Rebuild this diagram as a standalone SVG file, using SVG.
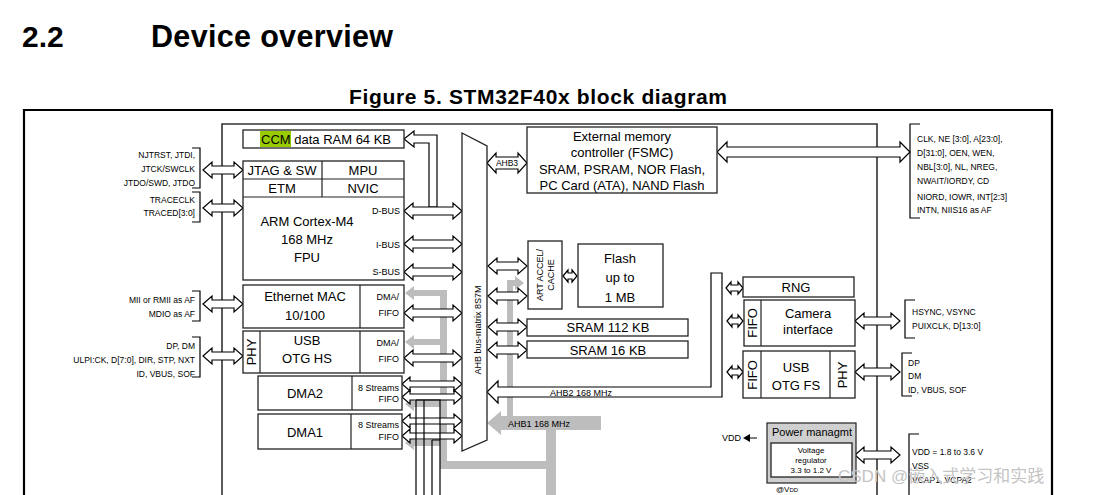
<svg xmlns="http://www.w3.org/2000/svg" width="1116" height="495" viewBox="0 0 1116 495">
<style>
text{font-family:"Liberation Sans",Arial,sans-serif;fill:#000}
.b{fill:#fff;stroke:#222;stroke-width:1.3}
.a{fill:#fff;stroke:#000;stroke-width:1.2}
.g{fill:#bdbdbd;stroke:none}
.t13{font-size:13px}
.t9{font-size:9px}
.s{font-size:8.5px}
.br{fill:none;stroke:#000;stroke-width:1.2}
</style>
<rect width="1116" height="495" fill="#fff"/>
<text x="22" y="47" font-size="30" font-weight="bold">2.2</text>
<text x="151" y="47" font-size="30.5" font-weight="bold" textLength="242">Device overview</text>
<text x="538" y="104" font-size="21" font-weight="bold" text-anchor="middle" textLength="378">Figure 5. STM32F40x block diagram</text>
<path d="M24 495 V110 H1052 V495" fill="none" stroke="#000" stroke-width="2.2"/>
<path d="M222 495 V124 H877 V495" fill="none" stroke="#333" stroke-width="1.6"/>

<g id="gray-bus">
<path class="g" d="M487 423 L501 411 L501 416 L601 416 L601 430 L501 430 L501 435 Z"/>
<rect class="g" x="546" y="430" width="10" height="65"/>
<rect class="g" x="443" y="461" width="113" height="8"/>
<rect class="g" x="440" y="292" width="7" height="177"/>
<path class="g" d="M405 293 L414 286 L414 290 L447 290 L447 296 L414 296 L414 300 Z"/>
<path class="g" d="M405 342 L414 335 L414 339 L447 339 L447 345 L414 345 L414 349 Z"/>
<path class="g" d="M405 404 L414 397 L414 401 L447 401 L447 407 L414 407 L414 411 Z"/>
<path class="g" d="M405 443 L414 436 L414 440 L447 440 L447 446 L414 446 L414 450 Z"/>
<path class="g" d="M507 416 L507 280 L515 280 L515 276 L524 283 L515 290 L515 286 L513 286 L513 416 Z"/>
</g>

<g id="connectors">
<path class="a" d="M404 139 L414 131 L414 135 L437 135 L437 207 L429 207 L429 143 L414 143 L414 147 Z"/>
<path class="a" d="M203 170 L212 162 L212 166 L234 166 L234 162 L243 170 L234 178 L234 174 L212 174 L212 178Z"/>
<path class="a" d="M203 208 L212 200 L212 204 L234 204 L234 200 L243 208 L234 216 L234 212 L212 212 L212 216Z"/>
<path class="a" d="M203 304 L212 296 L212 300 L234 300 L234 296 L243 304 L234 312 L234 308 L212 308 L212 312Z"/>
<path class="a" d="M203 356 L212 348 L212 352 L234 352 L234 348 L243 356 L234 364 L234 360 L212 360 L212 364Z"/>
<path class="a" d="M404 211 L413 203 L413 207 L453 207 L453 203 L462 211 L453 219 L453 215 L413 215 L413 219Z"/>
<path class="a" d="M404 244 L413 236 L413 240 L453 240 L453 236 L462 244 L453 252 L453 248 L413 248 L413 252Z"/>
<path class="a" d="M404 272 L413 264 L413 268 L453 268 L453 264 L462 272 L453 280 L453 276 L413 276 L413 280Z"/>
<path class="a" d="M404 313 L413 305 L413 309 L453 309 L453 305 L462 313 L453 321 L453 317 L413 317 L413 321Z"/>
<path class="a" d="M404 358 L413 350 L413 354 L453 354 L453 350 L462 358 L453 366 L453 362 L413 362 L413 366Z"/>
<path class="a" d="M402 384 L410 377 L410 381 L454 381 L454 377 L462 384 L454 391 L454 387 L410 387 L410 391Z"/>
<path class="a" d="M402 397 L410 390 L410 394 L454 394 L454 390 L462 397 L454 404 L454 400 L410 400 L410 404Z"/>
<path class="a" d="M402 421 L410 414 L410 418 L454 418 L454 414 L462 421 L454 428 L454 424 L410 424 L410 428Z"/>
<path class="a" d="M402 436 L410 429 L410 433 L454 433 L454 429 L462 436 L454 443 L454 439 L410 439 L410 443Z"/>
<path d="M416 400 V495 M424 400 V495 M432 440 V495 M440 440 V495 M416 400 H440 V440 H432" fill="none" stroke="#000" stroke-width="1.2"/>
<path class="a" d="M487 163 L496 153 L496 157 L518 157 L518 153 L527 163 L518 173 L518 169 L496 169 L496 173Z"/>
<text x="507" y="166" class="s" text-anchor="middle">AHB3</text>
<path class="a" d="M488 266 L497 258 L497 262 L518 262 L518 258 L527 266 L518 274 L518 270 L497 270 L497 274Z"/>
<path class="a" d="M488 296 L497 288 L497 292 L518 292 L518 288 L527 296 L518 304 L518 300 L497 300 L497 304Z"/>
<path class="a" d="M488 327 L497 319 L497 323 L518 323 L518 319 L527 327 L518 335 L518 331 L497 331 L497 335Z"/>
<path class="a" d="M488 350 L497 342 L497 346 L518 346 L518 342 L527 350 L518 358 L518 354 L497 354 L497 358Z"/>
<path class="a" d="M717 152 L727 142 L727 147 L900 147 L900 142 L910 152 L900 162 L900 157 L727 157 L727 162Z"/>
<path class="a" d="M855 321 L864 313 L864 317 L891 317 L891 313 L900 321 L891 329 L891 325 L864 325 L864 329Z"/>
<path class="a" d="M855 372 L864 364 L864 368 L891 368 L891 364 L900 372 L891 380 L891 376 L864 376 L864 380Z"/>
<path class="a" d="M855 455 L864 447 L864 451 L891 451 L891 447 L900 455 L891 463 L891 459 L864 459 L864 463Z"/>
<path class="a" d="M563 276 L568 270 L568 273 L572 273 L572 270 L577 276 L572 282 L572 279 L568 279 L568 282Z"/>
<path class="a" d="M726 288 L731 282 L731 285 L738 285 L738 282 L743 288 L738 294 L738 291 L731 291 L731 294Z"/>
<path class="a" d="M727 321 L732 315 L732 318 L738 318 L738 315 L743 321 L738 327 L738 324 L732 324 L732 327Z"/>
<path class="a" d="M727 372 L732 366 L732 369 L738 369 L738 366 L743 372 L738 378 L738 375 L732 375 L732 378Z"/>
<path class="a" d="M487 392 L498 381 L498 387 L711 387 L711 273 L722 273 L722 397 L498 397 L498 403 Z"/>
<text x="550" y="396" class="t9">AHB2 168 MHz</text>
<text x="508" y="427" class="t9">AHB1 168 MHz</text>
<path d="M745 438 H757" stroke="#000" stroke-width="1"/><path d="M743 438 L750 434 L750 442Z"/>
</g>

<g id="bus-matrix">
<path class="b" d="M462 133 L487 146 L487 440 L462 451 Z"/>
<text transform="translate(481,330) rotate(-90)" class="t9" text-anchor="middle">AHB bus-matrix 8S7M</text>
</g>

<g id="ccm">
<rect class="b" x="243" y="130" width="161" height="18"/>
<rect x="260" y="131" width="31" height="16" fill="#99cc00"/>
<text x="261" y="144" class="t13">CCM data RAM 64 KB</text>
</g>
<g id="cortex">
<rect class="b" x="243" y="161" width="161" height="119"/>
<path d="M243 179 H404 M243 197 H404 M322 161 V197" stroke="#222" stroke-width="1.2"/>
<text x="282" y="175" class="t13" text-anchor="middle">JTAG &amp; SW</text>
<text x="363" y="175" class="t13" text-anchor="middle">MPU</text>
<text x="282" y="193" class="t13" text-anchor="middle">ETM</text>
<text x="363" y="193" class="t13" text-anchor="middle">NVIC</text>
<text x="307" y="226" class="t13" text-anchor="middle">ARM Cortex-M4</text>
<text x="307" y="244" class="t13" text-anchor="middle">168 MHz</text>
<text x="307" y="262" class="t13" text-anchor="middle">FPU</text>
<text x="400" y="214" class="t9" text-anchor="end">D-BUS</text>
<text x="400" y="248" class="t9" text-anchor="end">I-BUS</text>
<text x="400" y="275" class="t9" text-anchor="end">S-BUS</text>
</g>
<g id="ethernet">
<rect class="b" x="243" y="285" width="161" height="43"/>
<path d="M360 285 V328" stroke="#222" stroke-width="1.2"/>
<text x="305" y="301" class="t13" text-anchor="middle">Ethernet MAC</text>
<text x="305" y="320" class="t13" text-anchor="middle">10/100</text>
<text x="399" y="300" class="t9" text-anchor="end">DMA/</text>
<text x="399" y="316" class="t9" text-anchor="end">FIFO</text>
</g>
<g id="usb-hs">
<rect class="b" x="243" y="331" width="161" height="42"/>
<path d="M260 331 V373 M360 331 V373" stroke="#222" stroke-width="1.2"/>
<text transform="translate(256,352) rotate(-90)" class="t13" text-anchor="middle">PHY</text>
<text x="307" y="345" class="t13" text-anchor="middle">USB</text>
<text x="307" y="363" class="t13" text-anchor="middle">OTG HS</text>
<text x="399" y="346" class="t9" text-anchor="end">DMA/</text>
<text x="399" y="362" class="t9" text-anchor="end">FIFO</text>
</g>
<g id="dma2">
<rect class="b" x="258" y="376" width="144" height="34"/>
<path d="M352 376 V410" stroke="#222" stroke-width="1.2"/>
<text x="305" y="398" class="t13" text-anchor="middle">DMA2</text>
<text x="399" y="391" class="t9" text-anchor="end">8 Streams</text>
<text x="399" y="402" class="t9" text-anchor="end">FIFO</text>
</g>
<g id="dma1">
<rect class="b" x="258" y="414" width="144" height="35"/>
<path d="M351 414 V449" stroke="#222" stroke-width="1.2"/>
<text x="305" y="437" class="t13" text-anchor="middle">DMA1</text>
<text x="399" y="428" class="t9" text-anchor="end">8 Streams</text>
<text x="399" y="440" class="t9" text-anchor="end">FIFO</text>
</g>
<g id="fsmc">
<rect class="b" x="527" y="127" width="190" height="66"/>
<text x="622" y="141" class="t13" text-anchor="middle">External memory</text>
<text x="622" y="157" class="t13" text-anchor="middle">controller (FSMC)</text>
<text x="622" y="174" class="t13" text-anchor="middle">SRAM, PSRAM, NOR Flash,</text>
<text x="622" y="190" class="t13" text-anchor="middle">PC Card (ATA), NAND Flash</text>
</g>
<g id="art">
<rect class="b" x="528" y="241" width="34" height="68"/>
<text transform="translate(543,275) rotate(-90)" class="t9" text-anchor="middle">ART ACCEL/</text>
<text transform="translate(554,275) rotate(-90)" class="t9" text-anchor="middle">CACHE</text>
</g>
<g id="flash">
<rect class="b" x="578" y="244" width="85" height="63"/>
<text x="620" y="263" class="t13" text-anchor="middle">Flash</text>
<text x="620" y="282" class="t13" text-anchor="middle">up to</text>
<text x="620" y="302" class="t13" text-anchor="middle">1 MB</text>
</g>
<g id="sram112"><rect class="b" x="527" y="319" width="161" height="17"/><text x="608" y="332" class="t13" text-anchor="middle">SRAM 112 KB</text></g>
<g id="sram16"><rect class="b" x="527" y="341" width="161" height="17"/><text x="608" y="355" class="t13" text-anchor="middle">SRAM 16 KB</text></g>
<g id="rng"><rect class="b" x="743" y="277" width="111" height="20"/><text x="796" y="292" class="t13" text-anchor="middle">RNG</text></g>
<g id="camera">
<rect class="b" x="744" y="300" width="111" height="46"/>
<path d="M761 300 V346" stroke="#222" stroke-width="1.2"/>
<text transform="translate(757,323) rotate(-90)" class="t13" text-anchor="middle">FIFO</text>
<text x="808" y="318" class="t13" text-anchor="middle">Camera</text>
<text x="808" y="334" class="t13" text-anchor="middle">interface</text>
</g>
<g id="usb-fs">
<rect class="b" x="743" y="351" width="112" height="47"/>
<path d="M761 351 V398 M830 351 V398" stroke="#222" stroke-width="1.2"/>
<text transform="translate(757,375) rotate(-90)" class="t13" text-anchor="middle">FIFO</text>
<text transform="translate(847,375) rotate(-90)" class="t13" text-anchor="middle">PHY</text>
<text x="796" y="372" class="t13" text-anchor="middle">USB</text>
<text x="796" y="390" class="t13" text-anchor="middle">OTG FS</text>
</g>
<g id="power">
<rect x="767" y="423" width="89" height="60" fill="#cfcfcf" stroke="#222" stroke-width="1.2"/>
<text x="812" y="436" font-size="11" text-anchor="middle">Power managmt</text>
<rect class="b" x="771" y="443" width="81" height="34"/>
<text x="811" y="453" font-size="8" text-anchor="middle">Voltage</text>
<text x="811" y="463" font-size="8" text-anchor="middle">regulator</text>
<text x="811" y="473" font-size="8" text-anchor="middle">3.3 to 1.2 V</text>
<text x="722" y="441" class="t9">VDD</text>
<text x="776" y="492" font-size="8">@V<tspan font-size="6">DD</tspan></text>
</g>
<g id="left-pins">
<path class="br" d="M192 148 H200 V188 H192 M192 192 H200 V222 H192 M192 291 H200 V321 H192 M192 337 H200 V377 H192"/>
<g class="s" text-anchor="end">
<text x="195" y="158">NJTRST, JTDI,</text>
<text x="195" y="172">JTCK/SWCLK</text>
<text x="195" y="186">JTDO/SWD, JTDO</text>
<text x="195" y="203">TRACECLK</text>
<text x="195" y="216">TRACED[3:0]</text>
<text x="195" y="303">MII or RMII as AF</text>
<text x="195" y="317">MDIO as AF</text>
<text x="195" y="349">DP, DM</text>
<text x="195" y="363">ULPI:CK, D[7:0], DIR, STP, NXT</text>
<text x="195" y="377">ID, VBUS, SOF</text>
</g>
</g>
<g id="right-pins">
<path class="br" d="M920 124 H910 V218 H920 M915 300 H905 V338 H915 M912 353 H902 V396 H912 M919 434 H909 V495"/>
<g class="s">
<text x="917" y="142">CLK, NE [3:0], A[23:0],</text>
<text x="917" y="156">D[31:0], OEN, WEN,</text>
<text x="917" y="170">NBL[3:0], NL, NREG,</text>
<text x="917" y="184">NWAIT/IORDY, CD</text>
<text x="917" y="200">NIORD, IOWR, INT[2:3]</text>
<text x="917" y="213">INTN, NIIS16 as AF</text>
<text x="912" y="315">HSYNC, VSYNC</text>
<text x="912" y="329">PUIXCLK, D[13:0]</text>
<text x="908" y="366">DP</text>
<text x="908" y="379">DM</text>
<text x="908" y="393">ID, VBUS, SOF</text>
<text x="912" y="455">VDD = 1.8 to 3.6 V</text>
<text x="912" y="469">VSS</text>
<text x="912" y="483">VCAP1, VCPA2</text>
</g>
</g>
<text x="838" y="482" font-size="17" style="fill:#c4c4c4;font-family:'Liberation Sans','Noto Sans CJK SC',sans-serif">CSDN @嵌入式学习和实践</text>
</svg>
